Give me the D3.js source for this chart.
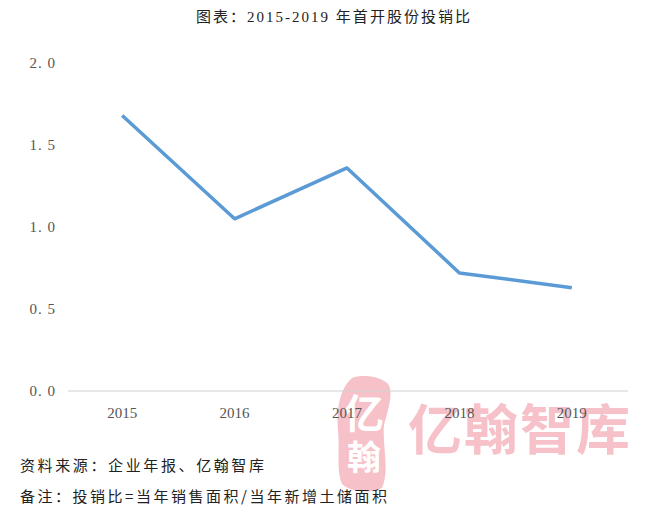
<!DOCTYPE html>
<html><head><meta charset="utf-8">
<script src="https://cdn.jsdelivr.net/npm/d3@7"></script>
<style>
html,body{margin:0;padding:0;background:#fff;}
svg{display:block;}
</style></head>
<body>
<svg id="c" width="645" height="520"></svg>
<script>
const categories = ["2015","2016","2017","2018","2019"];
const values = [1.68, 1.05, 1.36, 0.72, 0.63];
const yTicks = [0, 0.5, 1.0, 1.5, 2.0];
const title = "图表：2015-2019 年首开股份投销比";
const source = "资料来源：企业年报、亿翰智库";
const note = "备注：投销比=当年销售面积/当年新增土储面积";

const svg = d3.select("#c");
const serif = "'Liberation Serif','DejaVu Serif',serif";
const cjk = "'Noto Sans CJK SC','Noto Sans CJK JP',sans-serif";

const x = d3.scaleBand().domain(categories).range([66, 628]);
const y = d3.scaleLinear().domain([0, 2]).range([391, 63]);

// watermark
const wm = svg.append("g").attr("opacity", 0.55);
wm.append("path")
  .attr("d", "M352,378 C362,374 380,376 388,384 C394,392 388,410 384,425 C382,445 390,470 382,488 C372,494 350,492 342,484 C336,470 340,450 338,430 C336,410 340,388 352,378 Z")
  .attr("fill", "#ef8f9c");
wm.append("text").attr("x", 364).attr("y", 428).attr("text-anchor","middle")
  .attr("font-family", cjk).attr("font-size", 40).attr("font-weight", 700).attr("fill","#fff").text("亿");
wm.append("text").attr("x", 364).attr("y", 470).attr("text-anchor","middle")
  .attr("font-family", cjk).attr("font-size", 34).attr("font-weight", 700).attr("fill","#fff").text("翰");
wm.append("text").attr("x", 408).attr("y", 450)
  .attr("font-family", cjk).attr("font-size", 54).attr("font-weight", 700)
  .attr("fill", "#ef8f9c").attr("textLength", 222).text("亿翰智库");

// title
svg.append("text").attr("x", 196).attr("y", 22)
  .attr("font-family", serif + "," + cjk).attr("font-size", 15).attr("fill", "#222")
  .attr("textLength", 274).attr("lengthAdjust", "spacing")
  .text(title);

// y axis labels
svg.selectAll(".yt").data(yTicks).enter().append("text")
  .attr("x", 56).attr("y", d => y(d) + 5).attr("text-anchor", "end")
  .attr("font-family", serif).attr("font-size", 15).attr("fill", "#555")
  .attr("letter-spacing", 1)
  .text(d => d3.format(".1f")(d).replace(".", ". "));

// baseline
svg.append("line").attr("x1", 68).attr("x2", 628).attr("y1", y(0)).attr("y2", y(0))
  .attr("stroke", "#d0d0d0").attr("stroke-width", 1);

// x labels
svg.selectAll(".xt").data(categories).enter().append("text")
  .attr("x", d => x(d) + x.bandwidth()/2).attr("y", 418).attr("text-anchor", "middle")
  .attr("font-family", serif).attr("font-size", 15).attr("fill", "#555")
  .text(d => d);

// line
const line = d3.line().x((d,i) => x(categories[i]) + x.bandwidth()/2).y(d => y(d));
svg.append("path").datum(values).attr("d", line)
  .attr("fill", "none").attr("stroke", "#5b9bd5").attr("stroke-width", 3.5)
  .attr("stroke-linejoin", "round");

// footer
svg.append("text").attr("x", 20).attr("y", 471)
  .attr("font-family", cjk).attr("font-size", 15).attr("fill", "#222")
  .attr("textLength", 244).attr("lengthAdjust", "spacing").text(source);
svg.append("text").attr("x", 20).attr("y", 502)
  .attr("font-family", cjk).attr("font-size", 15).attr("fill", "#222")
  .attr("textLength", 367).attr("lengthAdjust", "spacing").text(note);
</script>
</body></html>
